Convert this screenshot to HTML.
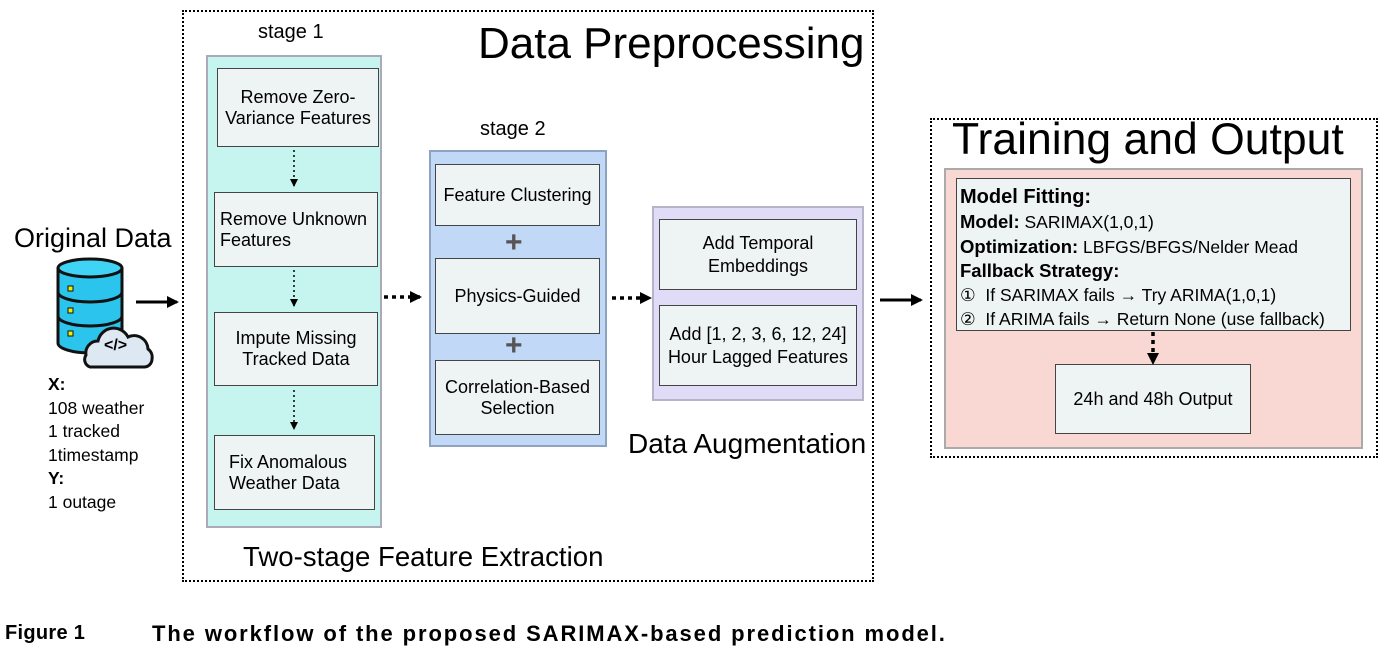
<!DOCTYPE html>
<html><head><meta charset="utf-8"><style>
body{margin:0;width:1384px;height:656px;background:#fff;position:relative;font-family:"Liberation Sans",sans-serif;color:#000;overflow:hidden}
.a{position:absolute}
.bx{position:absolute;background:#eef4f3;border:1.5px solid #444;box-sizing:border-box;display:flex;align-items:center;justify-content:center;text-align:center;font-size:18px;line-height:21px;white-space:nowrap}
.t{position:absolute;white-space:nowrap}
</style></head><body>
<div class="a" style="left:182px;top:10px;width:692px;height:572px;border:2px dotted #000;box-sizing:border-box"></div>
<div class="a" style="left:930px;top:118px;width:448px;height:340px;border:2px dotted #000;box-sizing:border-box"></div>

<div class="t" style="left:478px;top:19px;font-size:44px">Data Preprocessing</div>
<div class="t" style="left:952px;top:115px;font-size:44.5px">Training and Output</div>
<div class="t" style="left:258px;top:21px;font-size:20px">stage 1</div>
<div class="t" style="left:480px;top:118px;font-size:20px">stage 2</div>
<div class="t" style="left:14px;top:223px;font-size:27px">Original Data</div>
<div class="t" style="left:628px;top:428px;font-size:28px">Data Augmentation</div>
<div class="t" style="left:243px;top:541px;font-size:27.6px">Two-stage Feature Extraction</div>

<div class="a" style="left:206px;top:55px;width:176px;height:473px;background:#c5f5ee;border:2px solid #aab;box-sizing:border-box"></div>
<div class="bx" style="left:217px;top:68px;width:162px;height:79px">Remove Zero-<br>Variance Features</div>
<div class="bx" style="left:214px;top:192px;width:164px;height:75px;justify-content:flex-start;text-align:left;padding-left:5px;align-items:flex-start;padding-top:16px">Remove Unknown<br>Features</div>
<div class="bx" style="left:214px;top:312px;width:164px;height:74px">Impute Missing<br>Tracked Data</div>
<div class="bx" style="left:214px;top:435px;width:161px;height:75px;justify-content:flex-start;text-align:left;padding-left:14px">Fix Anomalous<br>Weather Data</div>

<div class="a" style="left:429px;top:150px;width:178px;height:297px;background:#c1d8f6;border:2px solid #8ea3c0;box-sizing:border-box"></div>
<div class="bx" style="left:435px;top:164px;width:165px;height:62px;align-items:flex-start;padding-top:20px">Feature Clustering</div>
<div class="bx" style="left:435px;top:258px;width:165px;height:76px">Physics-Guided</div>
<div class="bx" style="left:435px;top:360px;width:165px;height:75px">Correlation-Based<br>Selection</div>
<div class="t" style="left:505px;top:226px;font-size:30px;font-weight:bold;color:#555">+</div>
<div class="t" style="left:505px;top:329px;font-size:30px;font-weight:bold;color:#555">+</div>

<div class="a" style="left:652px;top:206px;width:212px;height:195px;background:#e0dbf7;border:2px solid #b8b4c8;box-sizing:border-box"></div>
<div class="bx" style="left:659px;top:219px;width:198px;height:71px;line-height:23px">Add Temporal<br>Embeddings</div>
<div class="bx" style="left:659px;top:305px;width:198px;height:81px;line-height:23px">Add [1, 2, 3, 6, 12, 24]<br>Hour Lagged Features</div>

<div class="a" style="left:944px;top:168px;width:419px;height:281px;background:#f9d8d3;border:2px solid #aaa;box-sizing:border-box"></div>
<div class="a" style="left:956px;top:178px;width:395px;height:153px;background:#eef4f3;border:1.5px solid #444;box-sizing:border-box;padding:5px 0 0 3px;font-size:17.5px;line-height:23.7px;white-space:nowrap">
<div style="font-size:20px;font-weight:bold;line-height:26px">Model Fitting:</div>
<div><b style="font-size:18.5px">Model:</b> SARIMAX(1,0,1)</div>
<div><b style="font-size:18.5px">Optimization:</b> LBFGS/BFGS/Nelder Mead</div>
<div><b style="font-size:18.5px">Fallback Strategy:</b></div>
<div>① &nbsp;If SARIMAX fails → Try ARIMA(1,0,1)</div>
<div>② &nbsp;If ARIMA fails → Return None (use fallback)</div>
</div>
<div class="bx" style="left:1055px;top:364px;width:196px;height:70px">24h and 48h Output</div>

<div class="t" style="left:48px;top:373px;font-size:17.5px;line-height:23.5px">
<b>X:</b><br>108 weather<br>1 tracked<br>1timestamp<br><b>Y:</b><br>1 outage</div>

<svg class="a" style="left:0;top:0" width="1384" height="656">
<defs><marker id="m" markerWidth="12" markerHeight="12" refX="10" refY="6" orient="auto" markerUnits="userSpaceOnUse"><path d="M0,0L12,6L0,12z" fill="#000"/></marker>
<marker id="s" markerWidth="8" markerHeight="8" refX="7" refY="4" orient="auto" markerUnits="userSpaceOnUse"><path d="M0,0L8,4L0,8z" fill="#000"/></marker></defs>
<g stroke="#000" stroke-width="1.5" stroke-dasharray="2,3" fill="none">
<line x1="294" y1="150" x2="294" y2="186" marker-end="url(#s)"/>
<line x1="294" y1="270" x2="294" y2="306" marker-end="url(#s)"/>
<line x1="294" y1="390" x2="294" y2="429" marker-end="url(#s)"/>
</g>
<g stroke="#000" stroke-width="3.5" stroke-dasharray="4,4" fill="none">
<line x1="384" y1="297" x2="420" y2="297" marker-end="url(#m)"/>
<line x1="612" y1="298" x2="650" y2="298" marker-end="url(#m)"/>
<line x1="1153" y1="332" x2="1153" y2="363" marker-end="url(#m)"/>
</g>
<g stroke="#000" stroke-width="3" fill="none">
<line x1="136" y1="302" x2="177" y2="302" marker-end="url(#m)"/>
<line x1="880" y1="300" x2="921" y2="300" marker-end="url(#m)"/>
</g>
<g stroke="#111" stroke-width="3">
<path d="M58,268 v75 a32,10 0 0 0 64,0 v-75" fill="#2ac4ec"/>
<ellipse cx="90" cy="268" rx="32" ry="9" fill="#3fd3f5"/>
<path d="M58,292 a32,10 0 0 0 64,0 M58,316 a32,10 0 0 0 64,0" fill="none"/>
<path d="M86,355 a12,12 0 0 1 12,-14 a16,16 0 0 1 30,-4 a14,14 0 0 1 20,12 a10,10 0 0 1 4,10 a8,8 0 0 1 -8,8 h-54 a8,8 0 0 1 -4,-12z" fill="#dde8f3"/>
</g>
<rect x="68" y="286" width="5" height="5" fill="#ee0" stroke="#111"/>
<rect x="68" y="308" width="5" height="5" fill="#ee0" stroke="#111"/>
<rect x="68" y="331" width="5" height="5" fill="#ee0" stroke="#111"/>
<text x="104" y="350" font-family="Liberation Sans" font-size="16" font-weight="bold">&lt;/&gt;</text>
</svg>

<div class="t" style="left:5px;top:622px;font-size:20px;font-weight:bold;letter-spacing:0.3px">Figure 1</div>
<div class="t" style="left:152px;top:621px;font-size:22px;font-weight:bold;letter-spacing:1.9px">The workflow of the proposed SARIMAX-based prediction model.</div>
</body></html>
